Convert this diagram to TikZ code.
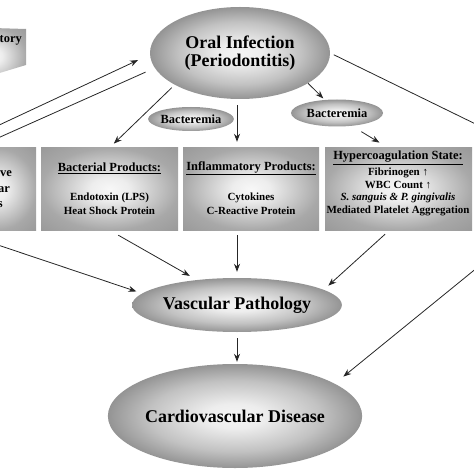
\documentclass[tikz,border=0pt]{standalone}
\usepackage{fontspec}
\setmainfont{Liberation Serif}
\usetikzlibrary{arrows.meta,calc,shapes.geometric}
\pgfdeclareradialshading{ellglow}{\pgfpointorigin}{rgb(0bp)=(0.96,0.96,0.96); rgb(6bp)=(0.93,0.93,0.93); rgb(17bp)=(0.76,0.76,0.76); rgb(25bp)=(0.58,0.58,0.58); rgb(50bp)=(0.58,0.58,0.58)}
\pgfdeclareradialshading{boxglow}{\pgfpointorigin}{rgb(0bp)=(0.97,0.97,0.97); rgb(7bp)=(0.93,0.93,0.93); rgb(19bp)=(0.75,0.75,0.75); rgb(25bp)=(0.66,0.66,0.66); rgb(36bp)=(0.6,0.6,0.6); rgb(50bp)=(0.6,0.6,0.6)}
\begin{document}
\begin{tikzpicture}[x=1bp,y=-1bp,
  ell/.style={ellipse, shading=ellglow, inner sep=0pt, align=center, font=\bfseries\fontsize{18}{18}\selectfont},
  sell/.style={ellipse, shading=ellglow, inner sep=0pt, align=center, font=\bfseries\fontsize{12.5}{14}\selectfont},
  boxn/.style={rectangle, shading=boxglow, inner sep=0pt, minimum height=82bp},
  ttl/.style={inner sep=0pt, align=center, font=\bfseries\fontsize{12.5}{14}\selectfont},
  txt/.style={inner sep=0pt, align=center, font=\bfseries\fontsize{11}{14}\selectfont},
  arr/.style={draw=black!85, line width=0.8bp, -{Stealth[length=8bp,width=6bp]}},
  ln/.style={draw=black!85, line width=0.8bp}
]
\useasboundingbox (0,0) rectangle (474,474);
\clip (0,0) rectangle (474,474);

% partial top-left box
\path[shading=boxglow] (-40,27) -- (26,29) -- (26,65) -- (-40,85) -- cycle;
\node[ttl, anchor=base east] (tlT) at (22,43) {tory};

% ellipses
\node[ell, minimum width=180bp, minimum height=92bp] (oral) at (240,53) {Oral Infection\\(Periodontitis)};
\node[sell, minimum width=82bp, minimum height=24bp] (bact1) at (191,119) {Bacteremia};
\node[sell, minimum width=92bp, minimum height=27bp] (bact2) at (337,113) {Bacteremia};
\node[ell, minimum width=166bp, minimum height=54bp] (vp) at (237,305) {Vascular Pathology};
\node[ell, minimum width=214bp, minimum height=104bp] (cvd) at (235,416) {Cardiovascular Disease};

% boxes
\node[boxn, minimum width=80bp] (lbox) at (-4,189) {};
\node[boxn, minimum width=137bp] (bbox) at (109.5,189) {};
\node[boxn, minimum width=136bp] (ibox) at (251,189) {};
\node[boxn, minimum width=147bp] (hbox) at (398.5,189) {};

\node[ttl, anchor=base east] (lboxA) at (12,177) {ve};
\node[ttl, anchor=base east] (lboxB) at (10,193) {ar};
\node[ttl, anchor=base east] (lboxC) at (3,208) {s};

\node[ttl] (bboxT) at (109.5,168) {\underline{Bacterial Products:}};
\node[txt] (bboxL) at (109.5,204) {Endotoxin (LPS)\\Heat Shock Protein};
\node[ttl] (iboxT) at (251,168) {\underline{Inflammatory Products:}};
\node[txt] (iboxL) at (251,204) {Cytokines\\C-Reactive Protein};
\node[ttl] (hboxT) at (398,158) {\underline{Hypercoagulation State:}};
\node[txt, font=\bfseries\fontsize{11}{12.8}\selectfont] (hboxL) at (398,192) {Fibrinogen ↑\\WBC Count ↑\\\textit{S. sanguis \& P. gingivalis}\\Mediated Platelet Aggregation};

% free ends
\coordinate (cL1) at (-20,134);
\coordinate (cL2) at (-20,146);
\coordinate (cL3) at (-20,239);
\coordinate (cR1) at (494,133);
\coordinate (cR2) at (494,254);

% connectors
\draw[arr, shorten >=13bp] (cL1) -- (oral.181);
\draw[ln, shorten <=10bp] (oral.190) -- (cL2);
\draw[arr, shorten <=4bp, shorten >=6bp] (oral.206) -- (bbox.north);
\draw[arr, shorten <=6bp, shorten >=6bp] (oral.south -| vp.north) -- (ibox.north -| vp.north);
\draw[arr, shorten >=2bp] (oral.336) -- (bact2.133);
\draw[arr, shorten <=11bp, shorten >=10bp] (bact2.-41) -- ([xshift=-10.5bp]hbox.north);
\draw[ln, shorten <=4bp] (oral.east) -- (cR1);
\draw[arr, shorten >=11bp] (cR2) -- (cvd.18);
\draw[arr, shorten >=6bp] (cL3) -- (vp.173);
\draw[arr, shorten <=10bp, shorten >=8bp] (bbox.south) -- (vp.148);
\draw[arr, shorten <=5bp, shorten >=6bp] (ibox.south -| vp.north) -- (vp.north);
\draw[arr, shorten <=6bp, shorten >=6bp] ([xshift=-9bp]hbox.south) -- (vp.10);
\draw[arr, shorten <=6bp, shorten >=2bp] (vp.south) -- (vp.south |- cvd.north);
\end{tikzpicture}
\end{document}
